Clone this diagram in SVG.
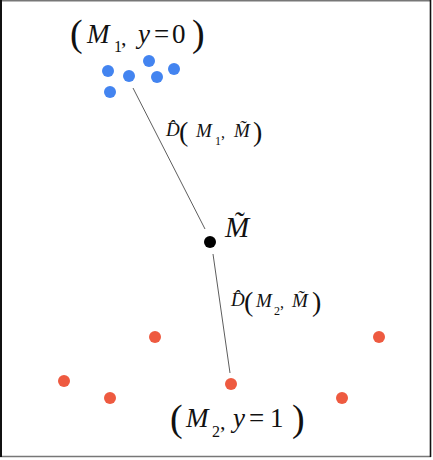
<svg xmlns="http://www.w3.org/2000/svg" width="433" height="460" viewBox="0 0 433 460">
<style>
.t{font-family:"Liberation Serif","Times New Roman",serif;fill:#111}
.i{font-style:italic}
.blue{fill:#4384f0}
.red{fill:#ee5a40}
.conn{stroke:#333;stroke-width:0.8;fill:none}
</style>
<rect x="0" y="0" width="433" height="460" fill="#fff"/>
<g id="frame">
<line x1="0" y1="0.8" x2="431" y2="0.8" stroke="#777" stroke-width="1.6"/>
<line x1="0" y1="456.5" x2="431" y2="456.5" stroke="#777" stroke-width="1.6"/>
<line x1="1" y1="0" x2="1" y2="457" stroke="#111" stroke-width="2"/>
<line x1="430.5" y1="0" x2="430.5" y2="457" stroke="#111" stroke-width="1.6"/>
</g>
<g id="connectors">
<line class="conn" x1="133" y1="88" x2="205" y2="229"/>
<line class="conn" x1="213" y1="254" x2="230" y2="373"/>
</g>
<g id="cluster1">
<circle class="blue" cx="108" cy="71" r="6"/>
<circle class="blue" cx="129" cy="76" r="6"/>
<circle class="blue" cx="149" cy="61" r="6"/>
<circle class="blue" cx="157" cy="77" r="6"/>
<circle class="blue" cx="174" cy="69" r="6"/>
<circle class="blue" cx="110" cy="92" r="6"/>
<text class="t" x="70" y="46" font-size="38">(</text>
<text class="t i" x="87" y="43" font-size="27">M</text>
<text class="t" x="114" y="52" font-size="16">1</text>
<text class="t" x="121" y="45" font-size="22">,</text>
<text class="t i" x="138" y="43" font-size="27">y</text>
<text class="t" x="154" y="43" font-size="27">=</text>
<text class="t" x="172" y="43" font-size="27">0</text>
<text class="t" x="192" y="46" font-size="38">)</text>
</g>
<g id="centroid">
<circle fill="#000" cx="210" cy="242" r="6"/>
<text class="t i" x="225" y="237" font-size="29">M&#771;</text>
</g>
<g id="cluster2">
<circle class="red" cx="155" cy="337" r="6"/>
<circle class="red" cx="379" cy="337" r="6"/>
<circle class="red" cx="64" cy="381" r="6"/>
<circle class="red" cx="110" cy="398" r="6"/>
<circle class="red" cx="231" cy="384" r="6"/>
<circle class="red" cx="342" cy="398" r="6"/>
<text class="t" x="170" y="431" font-size="38">(</text>
<text class="t i" x="186" y="427" font-size="27">M</text>
<text class="t" x="212" y="437" font-size="16">2</text>
<text class="t" x="220" y="429" font-size="22">,</text>
<text class="t i" x="233" y="427" font-size="27">y</text>
<text class="t" x="249" y="427" font-size="27">=</text>
<text class="t" x="270" y="427" font-size="27">1</text>
<text class="t" x="292" y="431" font-size="38">)</text>
</g>
<g id="label1">
<text class="t i" x="166" y="136" font-size="19">D&#770;</text>
<text class="t" x="179" y="141" font-size="28">(</text>
<text class="t i" x="196" y="137" font-size="19">M</text>
<text class="t" x="215" y="145" font-size="12">1</text>
<text class="t" x="221" y="138" font-size="16">,</text>
<text class="t i" x="234" y="137" font-size="19">M&#771;</text>
<text class="t" x="253" y="141" font-size="28">)</text>
</g>
<g id="label2">
<text class="t i" x="231" y="306" font-size="19">D&#770;</text>
<text class="t" x="244" y="311" font-size="28">(</text>
<text class="t i" x="256" y="307" font-size="19">M</text>
<text class="t" x="274" y="315" font-size="12">2</text>
<text class="t" x="280" y="308" font-size="16">,</text>
<text class="t i" x="292" y="307" font-size="19">M&#771;</text>
<text class="t" x="312" y="311" font-size="28">)</text>
</g>
</svg>
